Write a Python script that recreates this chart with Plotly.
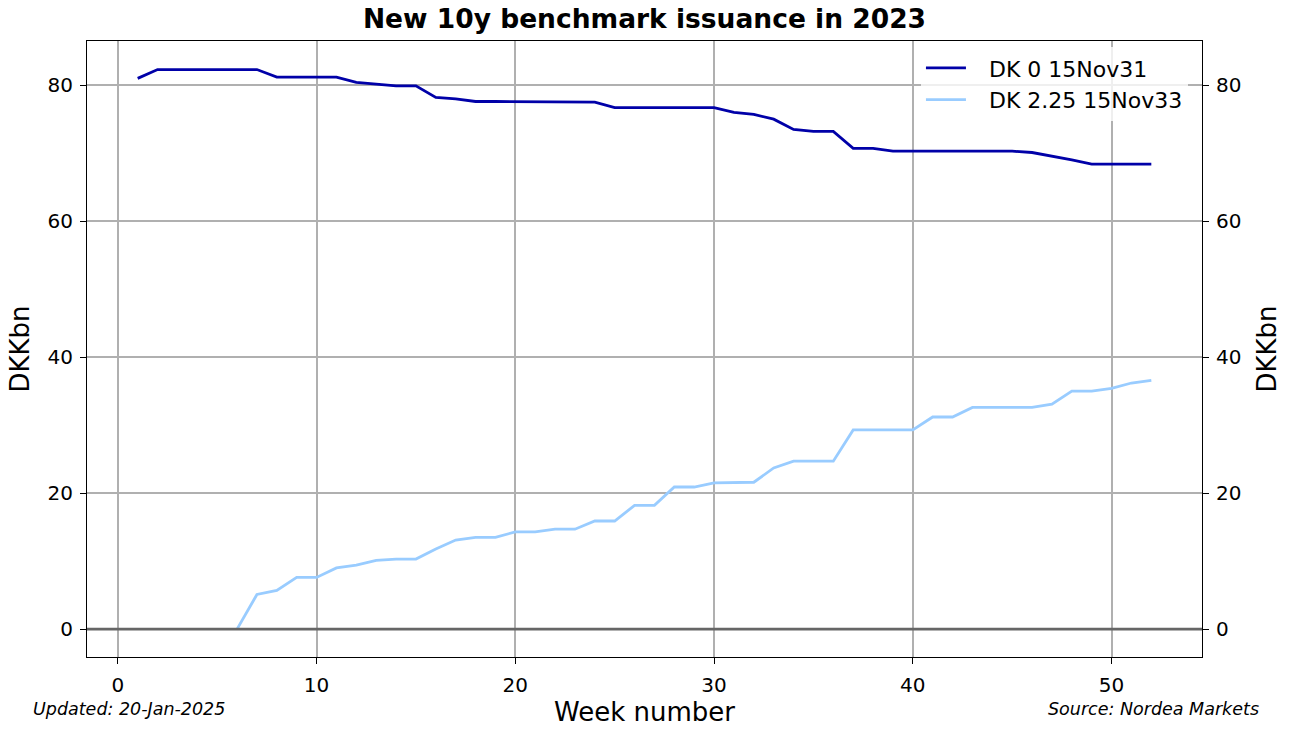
import plotly.graph_objects as go

weeks = list(range(1, 53))
dk31 = [81.0, 82.3, 82.3, 82.3, 82.3, 82.3, 82.3, 81.2, 81.2, 81.2,
        81.2, 80.4, 80.2, 79.9, 79.9, 78.2, 78.0, 77.6, 77.6, 77.6,
        77.5, 77.5, 77.5, 77.5, 76.7, 76.7, 76.7, 76.7, 76.7, 76.7,
        76.0, 75.7, 75.0, 73.5, 73.2, 73.2, 70.7, 70.7, 70.3, 70.3,
        70.3, 70.3, 70.3, 70.3, 70.3, 70.1, 69.6, 69.0, 68.4, 68.4,
        68.4, 68.4]
dk33 = [None, None, None, None, None, 0.0, 5.1, 5.7, 7.6, 7.6,
        9.0, 9.4, 10.1, 10.3, 10.3, 11.8, 13.1, 13.5, 13.5, 14.3,
        14.3, 14.7, 14.7, 15.9, 15.9, 18.2, 18.2, 20.9, 20.9, 21.5,
        21.6, 21.6, 23.7, 24.7, 24.7, 24.7, 29.3, 29.3, 29.3, 29.3,
        31.2, 31.2, 32.6, 32.6, 32.6, 32.6, 33.1, 35.0, 35.0, 35.4,
        36.2, 36.6]
names = ["DK 0 15Nov31", "DK 2.25 15Nov33"]
colors = ["#0000A8", "#99CCFF"]
x_ticks = [0, 10, 20, 30, 40, 50]
y_ticks = [0, 20, 40, 60, 80]

FONT = "DejaVu Sans"
fig = go.Figure()
for vals, nm, c in zip([dk31, dk33], names, colors):
    fig.add_trace(go.Scatter(x=weeks, y=vals, mode="lines",
                             name="\u2002\u00a0" + nm,
                             line=dict(color=c, width=2.8)))
# invisible trace to anchor the right axis
fig.add_trace(go.Scatter(x=weeks, y=dk31, yaxis="y2", mode="lines",
                         line=dict(width=0), opacity=0, showlegend=False,
                         hoverinfo="skip"))

fig.add_hline(y=0, line=dict(color="#666666", width=2.6), layer="above")

ymin, ymax = -4.1, 86.5
axis_common = dict(showline=True, linecolor="black", linewidth=1.2,
                   ticks="outside", ticklen=6, tickcolor="black",
                   tickfont=dict(family=FONT, size=20, color="black"))
fig.update_layout(
    width=1289, height=735,
    margin=dict(l=87, r=87, t=41, b=78),
    paper_bgcolor="white", plot_bgcolor="white",
    font=dict(family=FONT, color="black"),
    title=dict(text="<b>New 10y benchmark issuance in 2023</b>", x=0.5,
               xanchor="center", y=0.975, yanchor="middle",
               font=dict(family=FONT, size=26.5, color="black")),
    xaxis=dict(range=[-1.55, 54.55], tickvals=x_ticks, showgrid=True,
               gridcolor="#b0b0b0", gridwidth=1.5, zeroline=False,
               mirror=True, ticklabelstandoff=4,
               title=dict(text="Week number", font=dict(family=FONT, size=26),
                          standoff=4),
               **axis_common),
    yaxis=dict(range=[ymin, ymax], tickvals=y_ticks, showgrid=True,
               gridcolor="#b0b0b0", gridwidth=1.5, zeroline=False,
               ticklabelstandoff=3,
               title=dict(text="DKKbn", font=dict(family=FONT, size=26),
                          standoff=10),
               **axis_common),
    yaxis2=dict(range=[ymin, ymax], tickvals=y_ticks, overlaying="y",
                side="right", showgrid=False, zeroline=False,
                ticklabelstandoff=3,
                title=dict(text="DKKbn", font=dict(family=FONT, size=26),
                           standoff=17),
                **axis_common),
    legend=dict(x=0.9874, y=0.99, xanchor="right", yanchor="top",
                bgcolor="rgba(255,255,255,0.8)", borderwidth=0,
                font=dict(family=FONT, size=22, color="black"),
                itemwidth=40, tracegroupgap=0),
    showlegend=True,
)
fig.add_annotation(text="<i>Updated: 20-Jan-2025</i>", xref="paper",
                   yref="paper", x=-0.0502, y=-0.0844, xanchor="left",
                   yanchor="middle", showarrow=False,
                   font=dict(family=FONT, size=17.5, color="black"))
fig.add_annotation(text="<i>Source: Nordea Markets</i>", xref="paper",
                   yref="paper", x=1.0529, y=-0.0844, xanchor="right",
                   yanchor="middle", showarrow=False,
                   font=dict(family=FONT, size=17.5, color="black"))
fig.write_html("out.html")
